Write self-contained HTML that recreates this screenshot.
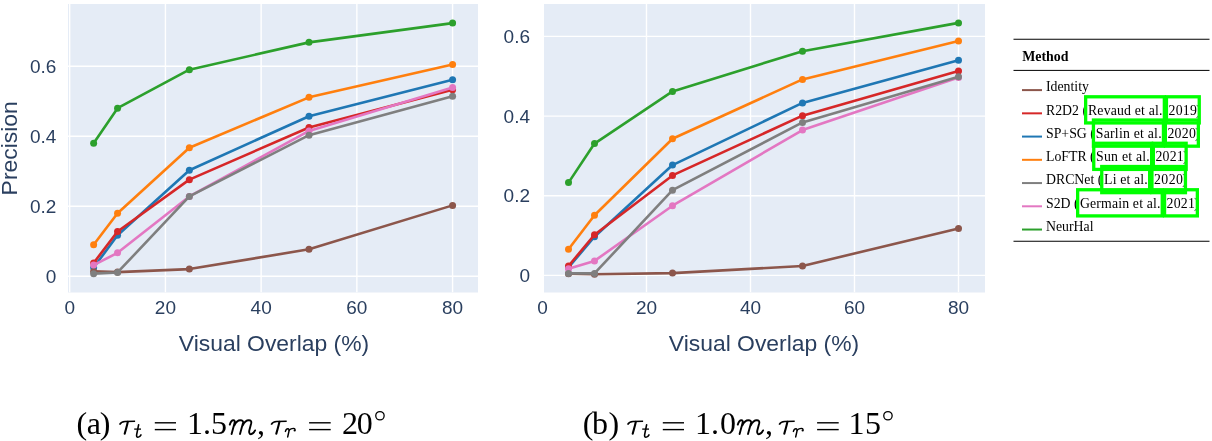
<!DOCTYPE html>
<html><head><meta charset="utf-8"><style>
html,body{margin:0;padding:0;background:#fff;width:1212px;height:441px;overflow:hidden}
svg{display:block;will-change:transform}
</style></head><body>
<svg width="1212" height="441" viewBox="0 0 1212 441">
<rect x="68" y="4" width="410" height="288.5" fill="#e5ecf6"/>
<clipPath id="cl"><rect x="68" y="4" width="410" height="288.5"/></clipPath>
<g clip-path="url(#cl)" stroke="#fff" stroke-width="1.4">
<line x1="69.70" y1="4" x2="69.70" y2="292.5"/>
<line x1="165.42" y1="4" x2="165.42" y2="292.5"/>
<line x1="261.14" y1="4" x2="261.14" y2="292.5"/>
<line x1="356.86" y1="4" x2="356.86" y2="292.5"/>
<line x1="452.58" y1="4" x2="452.58" y2="292.5"/>
<line x1="68" y1="276.30" x2="478" y2="276.30"/>
<line x1="68" y1="206.26" x2="478" y2="206.26"/>
<line x1="68" y1="136.22" x2="478" y2="136.22"/>
<line x1="68" y1="66.18" x2="478" y2="66.18"/>
</g>
<polyline points="93.63,143.22 117.56,108.20 189.35,69.68 309.00,42.37 452.58,23.11" fill="none" stroke="#2ca02c" stroke-width="2.6" stroke-linejoin="round"/>
<circle cx="93.63" cy="143.22" r="3.5" fill="#2ca02c"/>
<circle cx="117.56" cy="108.20" r="3.5" fill="#2ca02c"/>
<circle cx="189.35" cy="69.68" r="3.5" fill="#2ca02c"/>
<circle cx="309.00" cy="42.37" r="3.5" fill="#2ca02c"/>
<circle cx="452.58" cy="23.11" r="3.5" fill="#2ca02c"/>
<polyline points="93.63,244.78 117.56,213.26 189.35,147.78 309.00,97.35 452.58,64.43" fill="none" stroke="#ff7f0e" stroke-width="2.6" stroke-linejoin="round"/>
<circle cx="93.63" cy="244.78" r="3.5" fill="#ff7f0e"/>
<circle cx="117.56" cy="213.26" r="3.5" fill="#ff7f0e"/>
<circle cx="189.35" cy="147.78" r="3.5" fill="#ff7f0e"/>
<circle cx="309.00" cy="97.35" r="3.5" fill="#ff7f0e"/>
<circle cx="452.58" cy="64.43" r="3.5" fill="#ff7f0e"/>
<polyline points="93.63,267.55 117.56,235.33 189.35,170.19 309.00,116.26 452.58,79.84" fill="none" stroke="#1f77b4" stroke-width="2.6" stroke-linejoin="round"/>
<circle cx="93.63" cy="267.55" r="3.5" fill="#1f77b4"/>
<circle cx="117.56" cy="235.33" r="3.5" fill="#1f77b4"/>
<circle cx="189.35" cy="170.19" r="3.5" fill="#1f77b4"/>
<circle cx="309.00" cy="116.26" r="3.5" fill="#1f77b4"/>
<circle cx="452.58" cy="79.84" r="3.5" fill="#1f77b4"/>
<polyline points="93.63,262.99 117.56,231.47 189.35,179.64 309.00,127.47 452.58,89.64" fill="none" stroke="#d62728" stroke-width="2.6" stroke-linejoin="round"/>
<circle cx="93.63" cy="262.99" r="3.5" fill="#d62728"/>
<circle cx="117.56" cy="231.47" r="3.5" fill="#d62728"/>
<circle cx="189.35" cy="179.64" r="3.5" fill="#d62728"/>
<circle cx="309.00" cy="127.47" r="3.5" fill="#d62728"/>
<circle cx="452.58" cy="89.64" r="3.5" fill="#d62728"/>
<polyline points="93.63,271.40 117.56,272.10 189.35,269.09 309.00,249.33 452.58,205.38" fill="none" stroke="#8c564b" stroke-width="2.6" stroke-linejoin="round"/>
<circle cx="93.63" cy="271.40" r="3.5" fill="#8c564b"/>
<circle cx="117.56" cy="272.10" r="3.5" fill="#8c564b"/>
<circle cx="189.35" cy="269.09" r="3.5" fill="#8c564b"/>
<circle cx="309.00" cy="249.33" r="3.5" fill="#8c564b"/>
<circle cx="452.58" cy="205.38" r="3.5" fill="#8c564b"/>
<polyline points="93.63,265.09 117.56,252.84 189.35,196.45 309.00,130.97 452.58,87.54" fill="none" stroke="#e377c2" stroke-width="2.6" stroke-linejoin="round"/>
<circle cx="93.63" cy="265.09" r="3.5" fill="#e377c2"/>
<circle cx="117.56" cy="252.84" r="3.5" fill="#e377c2"/>
<circle cx="189.35" cy="196.45" r="3.5" fill="#e377c2"/>
<circle cx="309.00" cy="130.97" r="3.5" fill="#e377c2"/>
<circle cx="452.58" cy="87.54" r="3.5" fill="#e377c2"/>
<polyline points="93.63,273.67 117.56,272.45 189.35,196.45 309.00,135.17 452.58,96.30" fill="none" stroke="#7f7f7f" stroke-width="2.6" stroke-linejoin="round"/>
<circle cx="93.63" cy="273.67" r="3.5" fill="#7f7f7f"/>
<circle cx="117.56" cy="272.45" r="3.5" fill="#7f7f7f"/>
<circle cx="189.35" cy="196.45" r="3.5" fill="#7f7f7f"/>
<circle cx="309.00" cy="135.17" r="3.5" fill="#7f7f7f"/>
<circle cx="452.58" cy="96.30" r="3.5" fill="#7f7f7f"/>
<g font-family="Liberation Sans, sans-serif" font-size="19" fill="#2a3f5f">
<text x="56.3" y="282.90" text-anchor="end">0</text>
<text x="56.3" y="212.86" text-anchor="end">0.2</text>
<text x="56.3" y="142.82" text-anchor="end">0.4</text>
<text x="56.3" y="72.78" text-anchor="end">0.6</text>
<text x="69.70" y="313.9" text-anchor="middle">0</text>
<text x="165.42" y="313.9" text-anchor="middle">20</text>
<text x="261.14" y="313.9" text-anchor="middle">40</text>
<text x="356.86" y="313.9" text-anchor="middle">60</text>
<text x="452.58" y="313.9" text-anchor="middle">80</text>
</g>
<text x="274.00" y="350.8" text-anchor="middle" font-family="Liberation Sans, sans-serif" font-size="22.9" fill="#2a3f5f">Visual Overlap (%)</text>
<rect x="544" y="4" width="441" height="288.5" fill="#e5ecf6"/>
<clipPath id="cr"><rect x="544" y="4" width="441" height="288.5"/></clipPath>
<g clip-path="url(#cr)" stroke="#fff" stroke-width="1.4">
<line x1="542.50" y1="4" x2="542.50" y2="292.5"/>
<line x1="646.50" y1="4" x2="646.50" y2="292.5"/>
<line x1="750.50" y1="4" x2="750.50" y2="292.5"/>
<line x1="854.50" y1="4" x2="854.50" y2="292.5"/>
<line x1="958.50" y1="4" x2="958.50" y2="292.5"/>
<line x1="544" y1="275.40" x2="985" y2="275.40"/>
<line x1="544" y1="195.74" x2="985" y2="195.74"/>
<line x1="544" y1="116.08" x2="985" y2="116.08"/>
<line x1="544" y1="36.42" x2="985" y2="36.42"/>
</g>
<polyline points="568.50,182.60 594.50,143.56 672.50,91.39 802.50,51.16 958.50,22.88" fill="none" stroke="#2ca02c" stroke-width="2.6" stroke-linejoin="round"/>
<circle cx="568.50" cy="182.60" r="3.5" fill="#2ca02c"/>
<circle cx="594.50" cy="143.56" r="3.5" fill="#2ca02c"/>
<circle cx="672.50" cy="91.39" r="3.5" fill="#2ca02c"/>
<circle cx="802.50" cy="51.16" r="3.5" fill="#2ca02c"/>
<circle cx="958.50" cy="22.88" r="3.5" fill="#2ca02c"/>
<polyline points="568.50,249.31 594.50,215.26 672.50,138.78 802.50,79.44 958.50,41.00" fill="none" stroke="#ff7f0e" stroke-width="2.6" stroke-linejoin="round"/>
<circle cx="568.50" cy="249.31" r="3.5" fill="#ff7f0e"/>
<circle cx="594.50" cy="215.26" r="3.5" fill="#ff7f0e"/>
<circle cx="672.50" cy="138.78" r="3.5" fill="#ff7f0e"/>
<circle cx="802.50" cy="79.44" r="3.5" fill="#ff7f0e"/>
<circle cx="958.50" cy="41.00" r="3.5" fill="#ff7f0e"/>
<polyline points="568.50,267.43 594.50,236.76 672.50,165.07 802.50,102.94 958.50,60.32" fill="none" stroke="#1f77b4" stroke-width="2.6" stroke-linejoin="round"/>
<circle cx="568.50" cy="267.43" r="3.5" fill="#1f77b4"/>
<circle cx="594.50" cy="236.76" r="3.5" fill="#1f77b4"/>
<circle cx="672.50" cy="165.07" r="3.5" fill="#1f77b4"/>
<circle cx="802.50" cy="102.94" r="3.5" fill="#1f77b4"/>
<circle cx="958.50" cy="60.32" r="3.5" fill="#1f77b4"/>
<polyline points="568.50,266.00 594.50,234.77 672.50,175.43 802.50,115.68 958.50,71.07" fill="none" stroke="#d62728" stroke-width="2.6" stroke-linejoin="round"/>
<circle cx="568.50" cy="266.00" r="3.5" fill="#d62728"/>
<circle cx="594.50" cy="234.77" r="3.5" fill="#d62728"/>
<circle cx="672.50" cy="175.43" r="3.5" fill="#d62728"/>
<circle cx="802.50" cy="115.68" r="3.5" fill="#d62728"/>
<circle cx="958.50" cy="71.07" r="3.5" fill="#d62728"/>
<polyline points="568.50,273.81 594.50,274.21 672.50,273.09 802.50,266.00 958.50,228.40" fill="none" stroke="#8c564b" stroke-width="2.6" stroke-linejoin="round"/>
<circle cx="568.50" cy="273.81" r="3.5" fill="#8c564b"/>
<circle cx="594.50" cy="274.21" r="3.5" fill="#8c564b"/>
<circle cx="672.50" cy="273.09" r="3.5" fill="#8c564b"/>
<circle cx="802.50" cy="266.00" r="3.5" fill="#8c564b"/>
<circle cx="958.50" cy="228.40" r="3.5" fill="#8c564b"/>
<polyline points="568.50,268.79 594.50,260.90 672.50,205.70 802.50,130.02 958.50,77.44" fill="none" stroke="#e377c2" stroke-width="2.6" stroke-linejoin="round"/>
<circle cx="568.50" cy="268.79" r="3.5" fill="#e377c2"/>
<circle cx="594.50" cy="260.90" r="3.5" fill="#e377c2"/>
<circle cx="672.50" cy="205.70" r="3.5" fill="#e377c2"/>
<circle cx="802.50" cy="130.02" r="3.5" fill="#e377c2"/>
<circle cx="958.50" cy="77.44" r="3.5" fill="#e377c2"/>
<polyline points="568.50,273.41 594.50,273.41 672.50,190.16 802.50,122.45 958.50,76.65" fill="none" stroke="#7f7f7f" stroke-width="2.6" stroke-linejoin="round"/>
<circle cx="568.50" cy="273.41" r="3.5" fill="#7f7f7f"/>
<circle cx="594.50" cy="273.41" r="3.5" fill="#7f7f7f"/>
<circle cx="672.50" cy="190.16" r="3.5" fill="#7f7f7f"/>
<circle cx="802.50" cy="122.45" r="3.5" fill="#7f7f7f"/>
<circle cx="958.50" cy="76.65" r="3.5" fill="#7f7f7f"/>
<g font-family="Liberation Sans, sans-serif" font-size="19" fill="#2a3f5f">
<text x="530" y="282.00" text-anchor="end">0</text>
<text x="530" y="202.34" text-anchor="end">0.2</text>
<text x="530" y="122.68" text-anchor="end">0.4</text>
<text x="530" y="43.02" text-anchor="end">0.6</text>
<text x="542.50" y="313.9" text-anchor="middle">0</text>
<text x="646.50" y="313.9" text-anchor="middle">20</text>
<text x="750.50" y="313.9" text-anchor="middle">40</text>
<text x="854.50" y="313.9" text-anchor="middle">60</text>
<text x="958.50" y="313.9" text-anchor="middle">80</text>
</g>
<text x="764.00" y="350.8" text-anchor="middle" font-family="Liberation Sans, sans-serif" font-size="22.9" fill="#2a3f5f">Visual Overlap (%)</text>
<text transform="translate(17,148.3) rotate(-90)" text-anchor="middle" font-family="Liberation Sans, sans-serif" font-size="22.9" fill="#2a3f5f">Precision</text>
<line x1="1013.5" y1="39.3" x2="1209.5" y2="39.3" stroke="#000" stroke-width="1.1"/>
<line x1="1013.5" y1="70.4" x2="1209.5" y2="70.4" stroke="#000" stroke-width="1"/>
<line x1="1013.5" y1="241.2" x2="1209.5" y2="241.2" stroke="#000" stroke-width="1.1"/>
<text x="1022.2" y="60.5" font-family="Liberation Serif, serif" font-weight="bold" font-size="13.9" fill="#000">Method</text>
<line x1="1022" y1="90.10" x2="1042" y2="90.10" stroke="#8c564b" stroke-width="2"/>
<text x="1046" y="91.45" font-family="Liberation Serif, serif" font-size="13.8" fill="#000">Identity</text>
<line x1="1022" y1="113.34" x2="1042" y2="113.34" stroke="#d62728" stroke-width="2"/>
<text x="1046" y="114.69" font-family="Liberation Serif, serif" font-size="13.8" fill="#000">R2D2 (</text>
<text x="1088.00" y="114.69" font-family="Liberation Serif, serif" font-size="13.8" fill="#000" textLength="74.50" lengthAdjust="spacing">Revaud et al.</text><text x="1163.00" y="114.69" font-family="Liberation Serif, serif" font-size="13.8" fill="#000">,</text>
<text x="1168.50" y="114.69" font-family="Liberation Serif, serif" font-size="13.8" fill="#000" textLength="28.30" lengthAdjust="spacing">2019</text>
<text x="1196.00" y="114.69" font-family="Liberation Serif, serif" font-size="13.8" fill="#000">)</text>
<line x1="1022" y1="136.58" x2="1042" y2="136.58" stroke="#1f77b4" stroke-width="2"/>
<text x="1046" y="137.93" font-family="Liberation Serif, serif" font-size="13.8" fill="#000">SP+SG (</text>
<text x="1095.80" y="137.93" font-family="Liberation Serif, serif" font-size="13.8" fill="#000" textLength="65.80" lengthAdjust="spacing">Sarlin et al.</text><text x="1162.10" y="137.93" font-family="Liberation Serif, serif" font-size="13.8" fill="#000">,</text>
<text x="1167.40" y="137.93" font-family="Liberation Serif, serif" font-size="13.8" fill="#000" textLength="28.50" lengthAdjust="spacing">2020</text>
<text x="1195.10" y="137.93" font-family="Liberation Serif, serif" font-size="13.8" fill="#000">)</text>
<line x1="1022" y1="159.82" x2="1042" y2="159.82" stroke="#ff7f0e" stroke-width="2"/>
<text x="1046" y="161.17" font-family="Liberation Serif, serif" font-size="13.8" fill="#000">LoFTR (</text>
<text x="1096.10" y="161.17" font-family="Liberation Serif, serif" font-size="13.8" fill="#000" textLength="53.70" lengthAdjust="spacing">Sun et al.</text><text x="1150.30" y="161.17" font-family="Liberation Serif, serif" font-size="13.8" fill="#000">,</text>
<text x="1155.40" y="161.17" font-family="Liberation Serif, serif" font-size="13.8" fill="#000" textLength="28.30" lengthAdjust="spacing">2021</text>
<text x="1182.90" y="161.17" font-family="Liberation Serif, serif" font-size="13.8" fill="#000">)</text>
<line x1="1022" y1="183.06" x2="1042" y2="183.06" stroke="#7f7f7f" stroke-width="2"/>
<text x="1046" y="184.41" font-family="Liberation Serif, serif" font-size="13.8" fill="#000">DRCNet (</text>
<text x="1104.10" y="184.41" font-family="Liberation Serif, serif" font-size="13.8" fill="#000" textLength="43.70" lengthAdjust="spacing">Li et al.</text><text x="1148.30" y="184.41" font-family="Liberation Serif, serif" font-size="13.8" fill="#000">,</text>
<text x="1154.00" y="184.41" font-family="Liberation Serif, serif" font-size="13.8" fill="#000" textLength="29.00" lengthAdjust="spacing">2020</text>
<text x="1182.20" y="184.41" font-family="Liberation Serif, serif" font-size="13.8" fill="#000">)</text>
<line x1="1022" y1="206.30" x2="1042" y2="206.30" stroke="#e377c2" stroke-width="2"/>
<text x="1046" y="207.65" font-family="Liberation Serif, serif" font-size="13.8" fill="#000">S2D (</text>
<text x="1080.00" y="207.65" font-family="Liberation Serif, serif" font-size="13.8" fill="#000" textLength="80.40" lengthAdjust="spacing">Germain et al.</text><text x="1160.90" y="207.65" font-family="Liberation Serif, serif" font-size="13.8" fill="#000">,</text>
<text x="1166.60" y="207.65" font-family="Liberation Serif, serif" font-size="13.8" fill="#000" textLength="28.30" lengthAdjust="spacing">2021</text>
<text x="1194.10" y="207.65" font-family="Liberation Serif, serif" font-size="13.8" fill="#000">)</text>
<line x1="1022" y1="229.54" x2="1042" y2="229.54" stroke="#2ca02c" stroke-width="2"/>
<text x="1046" y="230.89" font-family="Liberation Serif, serif" font-size="13.8" fill="#000">NeurHal</text>
<rect x="1085.65" y="96.79" width="78.70" height="26.15" fill="none" stroke="#00ff00" stroke-width="3.3"/>
<rect x="1166.45" y="96.79" width="32.80" height="26.15" fill="none" stroke="#00ff00" stroke-width="3.3"/>
<rect x="1093.45" y="120.03" width="70.00" height="26.15" fill="none" stroke="#00ff00" stroke-width="3.3"/>
<rect x="1165.35" y="120.03" width="33.00" height="26.15" fill="none" stroke="#00ff00" stroke-width="3.3"/>
<rect x="1093.75" y="143.27" width="57.90" height="26.15" fill="none" stroke="#00ff00" stroke-width="3.3"/>
<rect x="1153.35" y="143.27" width="32.80" height="26.15" fill="none" stroke="#00ff00" stroke-width="3.3"/>
<rect x="1101.75" y="166.51" width="47.90" height="26.15" fill="none" stroke="#00ff00" stroke-width="3.3"/>
<rect x="1151.95" y="166.51" width="33.50" height="26.15" fill="none" stroke="#00ff00" stroke-width="3.3"/>
<rect x="1077.65" y="189.75" width="84.60" height="26.15" fill="none" stroke="#00ff00" stroke-width="3.3"/>
<rect x="1164.55" y="189.75" width="32.80" height="26.15" fill="none" stroke="#00ff00" stroke-width="3.3"/>
<text x="76.4" y="434.2" font-family="Liberation Serif, serif" font-size="32">(</text><text x="86.7" y="434.2" font-family="Liberation Serif, serif" font-size="32">a</text><text x="99.7" y="434.2" font-family="Liberation Serif, serif" font-size="32">)</text><path d="M119.60,424.6 C120.80,422.2 122.50,421.5 125.00,421.5 L135.10,421.3" fill="none" stroke="#000" stroke-width="1.6"/><path d="M127.80,421.9 C127.00,426 125.60,430 124.70,433.7" fill="none" stroke="#000" stroke-width="2.1" stroke-linecap="round"/>
<path d="M138.60,424.9 L136.70,434.3 C136.30,436.4 136.90,437.3 138.00,437.3 C139.20,437.3 140.30,436.3 141.00,434.9" fill="none" stroke="#000" stroke-width="1.6" stroke-linecap="round"/>
<path d="M134.20,429.1 L141.00,429.1" fill="none" stroke="#000" stroke-width="1.3"/>
<rect x="154.80" y="422.1" width="21.20" height="1.4" fill="#000"/><rect x="154.80" y="428.9" width="21.20" height="1.4" fill="#000"/>
<text x="186.90" y="434.4" font-family="Liberation Serif, serif" font-size="32">1</text>
<text x="203.00" y="434.4" font-family="Liberation Serif, serif" font-size="32">.</text>
<text x="211.00" y="434.4" font-family="Liberation Serif, serif" font-size="32">5</text>
<path d="M229.80,424.60 C230.60,422.00 231.80,420.20 233.30,420.20 C234.60,420.20 235.00,421.20 234.70,422.60 L231.60,434.00 M234.40,425.40 C235.80,422.20 238.00,420.20 240.40,420.20 C242.30,420.20 243.40,421.10 243.00,423.00 L240.00,434.00 M242.80,425.40 C244.20,422.20 246.40,420.20 248.80,420.20 C250.80,420.20 251.60,421.40 251.20,423.20 L249.30,430.40 C248.90,432.20 249.40,434.20 250.80,434.20 C252.60,434.20 254.20,432.20 255.10,430.40" fill="none" stroke="#000" stroke-width="1.9" stroke-linecap="round" stroke-linejoin="round"/>
<text x="257.10" y="434.4" font-family="Liberation Serif, serif" font-size="32">,</text>
<path d="M271.20,424.6 C272.40,422.2 274.10,421.5 276.60,421.5 L286.70,421.3" fill="none" stroke="#000" stroke-width="1.6"/><path d="M279.40,421.9 C278.60,426 277.20,430 276.30,433.7" fill="none" stroke="#000" stroke-width="2.1" stroke-linecap="round"/>
<path d="M285.40,431.4 C285.90,429.7 286.80,428.8 287.90,428.8 C288.90,428.8 289.30,429.6 289.10,430.6 L287.70,436.9" fill="none" stroke="#000" stroke-width="1.5" stroke-linecap="round"/>
<path d="M289.00,430.4 C290.20,429.1 291.80,428.4 293.30,428.4 C294.30,428.4 294.90,428.8 295.10,429.3" fill="none" stroke="#000" stroke-width="1.2" stroke-linecap="round"/>
<circle cx="294.70" cy="430.4" r="1.15" fill="#000"/>
<rect x="309.10" y="422.1" width="21.60" height="1.4" fill="#000"/><rect x="309.10" y="428.9" width="21.60" height="1.4" fill="#000"/>
<text x="342.00" y="434.4" font-family="Liberation Serif, serif" font-size="32">2</text>
<text x="356.80" y="434.4" font-family="Liberation Serif, serif" font-size="32">0</text>
<circle cx="379.95" cy="415.75" r="4.2" fill="none" stroke="#000" stroke-width="1.3"/>
<text x="582.8" y="434.2" font-family="Liberation Serif, serif" font-size="32">(</text><text x="592.1" y="434.2" font-family="Liberation Serif, serif" font-size="32">b</text><text x="608.4" y="434.2" font-family="Liberation Serif, serif" font-size="32">)</text><path d="M627.60,424.6 C628.80,422.2 630.50,421.5 633.00,421.5 L643.10,421.3" fill="none" stroke="#000" stroke-width="1.6"/><path d="M635.80,421.9 C635.00,426 633.60,430 632.70,433.7" fill="none" stroke="#000" stroke-width="2.1" stroke-linecap="round"/>
<path d="M646.60,424.9 L644.70,434.3 C644.30,436.4 644.90,437.3 646.00,437.3 C647.20,437.3 648.30,436.3 649.00,434.9" fill="none" stroke="#000" stroke-width="1.6" stroke-linecap="round"/>
<path d="M642.20,429.1 L649.00,429.1" fill="none" stroke="#000" stroke-width="1.3"/>
<rect x="662.80" y="422.1" width="21.20" height="1.4" fill="#000"/><rect x="662.80" y="428.9" width="21.20" height="1.4" fill="#000"/>
<text x="694.90" y="434.4" font-family="Liberation Serif, serif" font-size="32">1</text>
<text x="711.00" y="434.4" font-family="Liberation Serif, serif" font-size="32">.</text>
<text x="719.90" y="434.4" font-family="Liberation Serif, serif" font-size="32">0</text>
<path d="M737.80,424.60 C738.60,422.00 739.80,420.20 741.30,420.20 C742.60,420.20 743.00,421.20 742.70,422.60 L739.60,434.00 M742.40,425.40 C743.80,422.20 746.00,420.20 748.40,420.20 C750.30,420.20 751.40,421.10 751.00,423.00 L748.00,434.00 M750.80,425.40 C752.20,422.20 754.40,420.20 756.80,420.20 C758.80,420.20 759.60,421.40 759.20,423.20 L757.30,430.40 C756.90,432.20 757.40,434.20 758.80,434.20 C760.60,434.20 762.20,432.20 763.10,430.40" fill="none" stroke="#000" stroke-width="1.9" stroke-linecap="round" stroke-linejoin="round"/>
<text x="765.10" y="434.4" font-family="Liberation Serif, serif" font-size="32">,</text>
<path d="M779.20,424.6 C780.40,422.2 782.10,421.5 784.60,421.5 L794.70,421.3" fill="none" stroke="#000" stroke-width="1.6"/><path d="M787.40,421.9 C786.60,426 785.20,430 784.30,433.7" fill="none" stroke="#000" stroke-width="2.1" stroke-linecap="round"/>
<path d="M793.40,431.4 C793.90,429.7 794.80,428.8 795.90,428.8 C796.90,428.8 797.30,429.6 797.10,430.6 L795.70,436.9" fill="none" stroke="#000" stroke-width="1.5" stroke-linecap="round"/>
<path d="M797.00,430.4 C798.20,429.1 799.80,428.4 801.30,428.4 C802.30,428.4 802.90,428.8 803.10,429.3" fill="none" stroke="#000" stroke-width="1.2" stroke-linecap="round"/>
<circle cx="802.70" cy="430.4" r="1.15" fill="#000"/>
<rect x="817.10" y="422.1" width="21.60" height="1.4" fill="#000"/><rect x="817.10" y="428.9" width="21.60" height="1.4" fill="#000"/>
<text x="848.60" y="434.4" font-family="Liberation Serif, serif" font-size="32">1</text>
<text x="865.00" y="434.4" font-family="Liberation Serif, serif" font-size="32">5</text>
<circle cx="887.95" cy="415.75" r="4.2" fill="none" stroke="#000" stroke-width="1.3"/>
</svg>
</body></html>
